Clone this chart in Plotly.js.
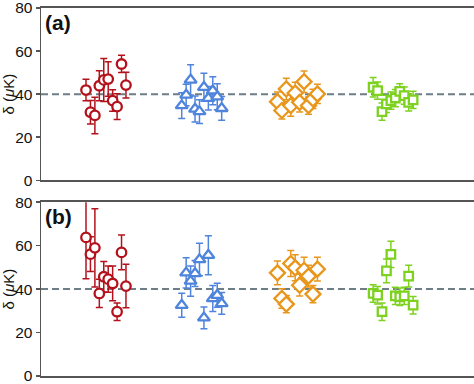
<!DOCTYPE html>
<html>
<head>
<meta charset="utf-8">
<script src="https://cdn.plot.ly/plotly-3.0.1.min.js"></script>
<style>html,body{margin:0;padding:0;background:#fff;}#chart{width:474px;height:384px;}</style>
</head>
<body>
<div id="chart"></div>
<script>
// ---- data (δ in μK) ----
const groups = [1, 2, 3, 4];
const shots = [0, 1, 2, 3, 4, 5, 6, 7, 8, 9];
const referenceLevel = 40;
const yTicks = [0, 20, 40, 60, 80];

const redA = [41.9, 31.6, 30.1, 43.9, 46.6, 47.0, 37.0, 34.2, 54.0, 44.2];
const redAErr = [5, 5.5, 8.5, 7, 10, 8, 5, 6, 4, 6];
const blueA = [34.7, 39.6, 46.6, 33.1, 31.9, 43.2, 38.1, 41.6, 38.8, 33.4];
const blueAErr = [6, 5, 7, 6, 5.5, 6.5, 5.5, 6.5, 6, 5.5];
const orangeA = [36.5, 32.4, 42.4, 34.7, 40.5, 36.2, 45.8, 34.7, 37.8, 40.1];
const orangeAErr = [4.5, 4, 5, 5, 5, 4.5, 5, 4, 4.5, 4.5];
const greenA = [43.2, 41.6, 31.9, 35.5, 37.0, 38.2, 41.3, 39.3, 36.2, 37.3];
const greenAErr = [4.5, 4, 4, 4, 4, 4, 3.5, 4, 4, 4];

const redB = [63.8, 56.1, 59.0, 38.0, 45.7, 44.6, 42.6, 29.6, 56.9, 41.4];
const redBErr = [19, 8, 18, 6.5, 7, 6, 8, 4, 8, 10];
const blueB = [32.6, 47.5, 43.7, 47.2, 53.6, 26.8, 55.6, 35.7, 37.2, 33.4];
const blueBErr = [5.5, 7, 7, 6, 7.5, 5, 9, 6, 5.5, 5];
const orangeB = [47.5, 35.7, 33.1, 51.8, 49.8, 41.8, 48.7, 46.0, 37.7, 49.2];
const orangeBErr = [5.5, 4.5, 4, 6, 6, 5, 6, 5, 4, 5.5];
const greenB = [38.0, 37.2, 29.6, 48.4, 56.0, 36.9, 36.5, 36.9, 46.0, 32.6];
const greenBErr = [4, 4, 4, 5.5, 6, 4, 4, 4, 5, 4];

// ---- styles ----
const spread = 0.0464;
const styles = [
  {color: '#b3121c', symbol: 'circle', size: 9.5},
  {color: '#4f84dc', symbol: 'triangle-up', size: 10.5},
  {color: '#e8961c', symbol: 'diamond', size: 11.5},
  {color: '#7dd11f', symbol: 'square', size: 8.5}
];

function xs(g) { return shots.map(j => g + (j - 4.5) * spread); }

function mk(gi, vals, errs, xa, ya) {
  const s = styles[gi];
  return {
    type: 'scatter', mode: 'markers',
    x: xs(groups[gi]), y: vals,
    xaxis: xa, yaxis: ya,
    error_y: {type: 'data', array: errs, visible: true, color: s.color, thickness: 1.5, width: 3.5},
    marker: {symbol: s.symbol, size: s.size, color: '#ffffff', line: {color: s.color, width: 2.3}},
    showlegend: false, hoverinfo: 'y'
  };
}

const data = [
  mk(0, redA, redAErr, 'x', 'y'),
  mk(1, blueA, blueAErr, 'x', 'y'),
  mk(2, orangeA, orangeAErr, 'x', 'y'),
  mk(3, greenA, greenAErr, 'x', 'y'),
  mk(0, redB, redBErr, 'x2', 'y2'),
  mk(1, blueB, blueBErr, 'x2', 'y2'),
  mk(2, orangeB, orangeBErr, 'x2', 'y2'),
  mk(3, greenB, greenBErr, 'x2', 'y2')
];

const H = 384, W = 474;
const T = 7.5, PH = H - T;
const xr = [0.321, 4.845];
const FONT = 'Liberation Sans, Arial, sans-serif';
function xAxis(anchor) {
  return {range: xr, anchor: anchor, showline: true, mirror: true, linecolor: '#555555', linewidth: 2,
    showgrid: false, zeroline: false, showticklabels: false, ticks: ''};
}
function yAxis(dom, anchor) {
  return {range: [0, 80], domain: dom, anchor: anchor, tickvals: yTicks, ticks: 'outside', ticklen: 4,
    tickcolor: '#555555', tickwidth: 1.5, showline: true, linecolor: '#555555', linewidth: 1.5,
    showgrid: false, zeroline: false, ticklabeloverflow: 'allow',
    tickfont: {family: FONT, size: 15.5, color: '#111'},
    title: {text: 'δ (<i>μ</i>K)', font: {family: FONT, size: 15, color: '#111'}, standoff: 4}};
}

const dash = (xref, yref) => ({type: 'line', xref: xref + ' domain', yref: yref, x0: 0, x1: 1,
  y0: referenceLevel, y1: referenceLevel, layer: 'below',
  line: {color: '#6d7e86', width: 2, dash: '7px,4px'}});

// plot-area fractions measured from top of the plotting region (y = T px)
const fy = py => 1 - (py - T) / PH;

const layout = {
  width: W, height: H,
  margin: {l: 41, r: 0, t: T, b: 0},
  paper_bgcolor: '#fff', plot_bgcolor: '#fff',
  xaxis: Object.assign(xAxis('y'), {domain: [0, 1]}),
  xaxis2: Object.assign(xAxis('y2'), {domain: [0, 1]}),
  yaxis: yAxis([fy(180), 1], 'x'),
  yaxis2: yAxis([fy(376), fy(202)], 'x2'),
  shapes: [dash('x', 'y'), dash('x2', 'y2')],
  annotations: [
    {text: '<b>(a)</b>', xref: 'paper', yref: 'paper', x: 2 / 433, y: fy(22), xanchor: 'left', yanchor: 'middle',
      showarrow: false, font: {family: FONT, size: 21, color: '#111'}},
    {text: '<b>(b)</b>', xref: 'paper', yref: 'paper', x: 2 / 433, y: fy(216), xanchor: 'left', yanchor: 'middle',
      showarrow: false, font: {family: FONT, size: 21, color: '#111'}}
  ]
};

Plotly.newPlot('chart', data, layout, {displayModeBar: false, staticPlot: true});
</script>
</body>
</html>
